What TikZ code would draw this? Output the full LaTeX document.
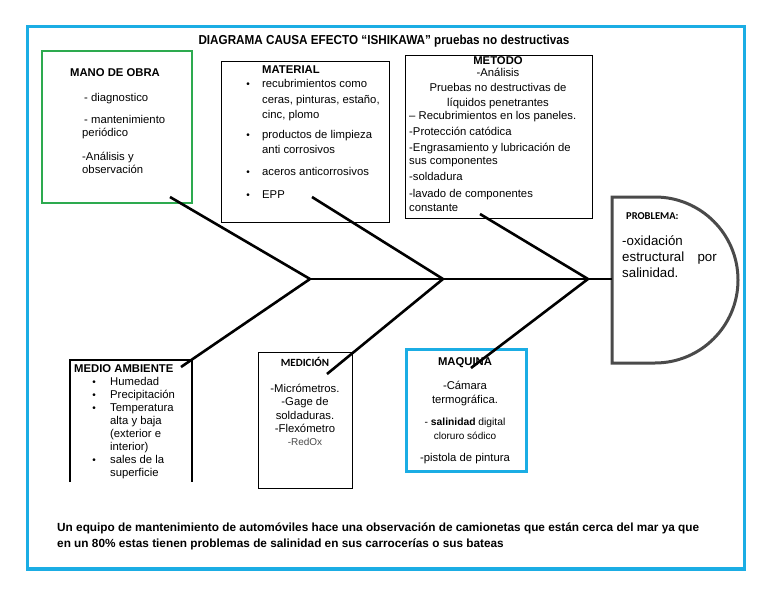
\documentclass[tikz,border=0pt]{standalone}
\usepackage{fontspec}
\setmainfont{Liberation Sans}
\newfontfamily\carl{Carlito}
\definecolor{frame}{HTML}{1BADE4}
\definecolor{grn}{HTML}{2DAA4F}
\definecolor{dgray}{HTML}{4A4A4A}
\begin{document}
\begin{tikzpicture}[x=1pt,y=-1pt,
  tx/.style={anchor=base west, inner sep=0pt, font=\fontsize{11.3}{13}\selectfont},
  tc/.style={anchor=base, inner sep=0pt, font=\fontsize{11.3}{13}\selectfont},
  hd/.style={anchor=base, inner sep=0pt, font=\fontsize{11.3}{13}\selectfont\bfseries},
  bul/.style={anchor=base, inner sep=0pt, font=\fontsize{10}{12}\selectfont},
  bone/.style={line width=2.6pt, black},
  box/.style={draw=black, line width=1.1pt, anchor=north west, inner sep=0pt}]
\useasboundingbox (0,0) rectangle (768,594);
% outer frame
\node[draw=frame, line width=3.5pt, anchor=north west, inner sep=0pt, minimum width=717, minimum height=542] (frame) at (25.5,25) {};
% title
\node[anchor=base, inner sep=0pt, font=\fontsize{13}{15}\selectfont\bfseries] (title) at (384,45) {\scalebox{0.9}[1]{DIAGRAMA CAUSA EFECTO “ISHIKAWA” pruebas no destructivas}};

% boxes
\node[draw=grn, line width=1.8pt, anchor=north west, inner sep=0pt, minimum width=150, minimum height=152] (mano) at (41,50) {};
\node[box, minimum width=168, minimum height=161] (material) at (221,61) {};
\node[box, minimum width=187, minimum height=163] (metodo) at (405,55) {};
\node[box, minimum width=94, minimum height=136] (medicion) at (258,352) {};
\node[draw=frame, line width=3pt, anchor=north west, inner sep=0pt, minimum width=120, minimum height=122] (maquina) at (405,348) {};
\draw[line width=1.1pt] (70,482) -- (70,360) -- (192,360) -- (192,482);

% problem head
\draw[dgray, line width=3pt, fill=white] (612,197) -- (655,197) arc[start angle=90, end angle=-90, radius=83pt] -- (612,363) -- cycle;
\coordinate (head) at (612,279);

% fishbone
\coordinate (j1) at (310,279);
\coordinate (j2) at (443,279);
\coordinate (j3) at (588,279);
\coordinate (u1) at (170,197);
\coordinate (u2) at (312,197);
\coordinate (u3) at (480,214);
\coordinate (l1) at (181,367);
\coordinate (l2) at (327,374);
\coordinate (l3) at (471,368);
\draw[bone] (j1) -- (head);
\draw[bone] (u1) -- (j1);
\draw[bone] (u2) -- (j2);
\draw[bone] (u3) -- (j3);
\draw[bone] (l1) -- (j1);
\draw[bone] (l2) -- (j2);
\draw[bone] (l3) -- (j3);

% MANO DE OBRA
\node[hd] (m0) at (115,77) {MANO DE OBRA};
\node[tx] (m1) at (84,101) {- diagnostico};
\node[tx] (m2) at (84,123) {- mantenimiento};
\node[tx] (m3) at (82,136) {periódico};
\node[tx] (m4) at (82,160) {-Análisis y};
\node[tx] (m5) at (82,173) {observación};

% MATERIAL
\node[hd, anchor=base west] (a0) at (262,74) {MATERIAL};
\node[bul] (ab1) at (248,87) {•};
\node[tx] (a1) at (262,87) {recubrimientos como};
\node[tx] (a2) at (262,103) {ceras, pinturas, estaño,};
\node[tx] (a3) at (262,118) {cinc, plomo};
\node[bul] (ab2) at (248,138) {•};
\node[tx] (a4) at (262,138) {productos de limpieza};
\node[tx] (a5) at (262,153) {anti corrosivos};
\node[bul] (ab3) at (248,175) {•};
\node[tx] (a6) at (262,175) {aceros anticorrosivos};
\node[bul] (ab4) at (248,198) {•};
\node[tx] (a7) at (262,198) {EPP};

% METODO
\node[hd] (t0) at (498,65) {METODO};
\node[tc] (t1) at (498,77) {-Análisis};
\node[tc] (t2) at (498,92) {Pruebas no destructivas de};
\node[tc] (t3) at (498,106) {líquidos penetrantes};
\node[tx] (t4) at (409,119) {– Recubrimientos en los paneles.};
\node[tx] (t5) at (409,135) {-Protección catódica};
\node[tx] (t6) at (409,151) {-Engrasamiento y lubricación de};
\node[tx] (t7) at (409,164) {sus componentes};
\node[tx] (t8) at (409,180) {-soldadura};
\node[tx] (t9) at (409,197) {-lavado de componentes};
\node[tx] (t10) at (409,211) {constante};

% PROBLEMA
\node[anchor=base west, inner sep=0pt, font=\fontsize{10.5}{12}\selectfont\carl\bfseries] (p0) at (626,219) {PROBLEMA:};
\node[tx, font=\fontsize{13.3}{15}\selectfont] (p1) at (622,245) {-oxidación};
\node[tx, font=\fontsize{13.3}{15}\selectfont] (p2) at (622,261) {estructural};
\node[anchor=base east, inner sep=0pt, font=\fontsize{13.3}{15}\selectfont] (p2b) at (717,261) {por};
\node[tx, font=\fontsize{13.3}{15}\selectfont] (p3) at (622,277) {salinidad.};

% MEDIO AMBIENTE
\node[hd, anchor=base west] (e0) at (74,372) {MEDIO AMBIENTE};
\node[bul] (eb1) at (94,385) {•};
\node[tx] (e1) at (110,385) {Humedad};
\node[bul] (eb2) at (94,398) {•};
\node[tx] (e2) at (110,398) {Precipitación};
\node[bul] (eb3) at (94,411) {•};
\node[tx] (e3) at (110,411) {Temperatura};
\node[tx] (e4) at (110,424) {alta y baja};
\node[tx] (e5) at (110,437) {(exterior e};
\node[tx] (e6) at (110,450) {interior)};
\node[bul] (eb4) at (94,463) {•};
\node[tx] (e7) at (110,463) {sales de la};
\node[tx] (e8) at (110,476) {superficie};

% MEDICION
\node[anchor=base, inner sep=0pt, font=\fontsize{11}{13}\selectfont\carl\bfseries] (d0) at (305,366) {MEDICIÓN};
\node[tc] (d1) at (305,392) {-Micrómetros.};
\node[tc] (d2) at (305,405) {-Gage de};
\node[tc] (d3) at (305,419) {soldaduras.};
\node[tc] (d4) at (305,432) {-Flexómetro};
\node[tc, font=\fontsize{10}{12}\selectfont, text=dgray] (d5) at (305,445) {-RedOx};

% MAQUINA
\node[hd] (q0) at (465,365) {MAQUINA};
\node[tc] (q1) at (465,389) {-Cámara};
\node[tc] (q2) at (465,403) {termográfica.};
\node[tc, font=\fontsize{10.3}{12}\selectfont] (q3) at (465,425) {- \textbf{salinidad} digital};
\node[tc, font=\fontsize{10}{12}\selectfont] (q4) at (465,439) {cloruro sódico};
\node[tc] (q5) at (465,461) {-pistola de pintura};

% bottom text
\node[anchor=base west, inner sep=0pt, font=\fontsize{11.8}{14}\selectfont\bfseries] (b1) at (57,531) {Un equipo de mantenimiento de automóviles hace una observación de camionetas que están cerca del mar ya que};
\node[anchor=base west, inner sep=0pt, font=\fontsize{11.8}{14}\selectfont\bfseries] (b2) at (57,547) {en un 80\% estas tienen problemas de salinidad en sus carrocerías o sus bateas};
\end{tikzpicture}
\end{document}
